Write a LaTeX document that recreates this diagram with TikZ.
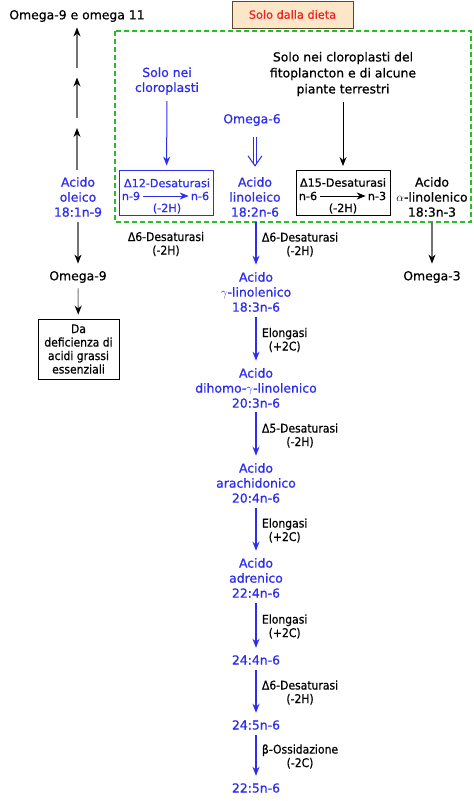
\documentclass[tikz,border=0pt]{standalone}
\usepackage{fontspec}
\setmainfont[FakeBold=0.8]{DejaVu Sans}
\newfontfamily\condfont[FakeStretch=0.9,FakeBold=0.6]{DejaVu Sans}
\usetikzlibrary{arrows.meta,positioning}
\definecolor{acidblue}{RGB}{45,45,235}
\definecolor{dashgreen}{RGB}{40,190,40}
\definecolor{dietfill}{RGB}{252,230,200}
\definecolor{dietred}{RGB}{235,35,35}
\definecolor{dietline}{RGB}{90,70,50}
\begin{document}
\begin{tikzpicture}[
        x=1pt, y=-1pt,
        % stili dei testi
        acid/.style={text=acidblue, align=center, font=\fontsize{12.4}{15}\selectfont},
        plain/.style={align=center, font=\fontsize{12.4}{15}\selectfont},
        lab/.style={align=center, font=\condfont\fontsize{12}{13.5}\selectfont},
        boxtext/.style={font=\fontsize{11.2}{13}\selectfont, inner sep=1pt},
        enzbox/.style={draw, line width=0.9pt, minimum width=94pt, minimum height=45pt},
        % stili delle frecce
        flow/.style={draw=acidblue, line width=1.3pt, -{Stealth[length=9pt,width=7pt]}},
        blackflow/.style={draw=black!55, line width=1.1pt, -{Stealth[length=9pt,width=7pt,color=black]}},
        thinflow/.style={line width=1pt, -{Stealth[length=9pt,width=7pt]}},
    ]
    \useasboundingbox (0,0) rectangle (474,801);

    % riquadro verde tratteggiato
    \draw[dashgreen, line width=1.2pt, dash pattern=on 5pt off 3pt] (115,31) rectangle (471,222);

    % solo dalla dieta
    \node[draw=dietline, fill=dietfill, text=dietred, line width=0.9pt,
          font=\fontsize{11.3}{14}\selectfont, minimum width=121pt, minimum height=27pt]
          (dieta) at (292.5,14.5) {Solo dalla dieta};

    % colonna sinistra: omega-9
    \node[plain] (om911) at (77,16) {Omega-9 e omega 11};
    \coordinate (p1) at (77,123);
    \coordinate (p2) at (77,72.5);
    \node[acid] (oleico) at (78,197) {Acido\\oleico\\18:1n-9};
    \node[plain] (om9) at (78,277) {Omega-9};
    \node[draw, lab, line width=0.8pt, minimum width=81pt, minimum height=60pt, inner sep=1pt]
          (defic) at (78.5,349) {Da\\deficienza di\\acidi grassi\\essenziali};

    \draw[blackflow, shorten <=4pt, shorten >=5pt] (oleico.north -| p1) -- (p1);
    \draw[blackflow, shorten <=5pt, shorten >=5pt] (p1) -- (p2);
    \draw[blackflow, shorten <=5pt, shorten >=2pt] (p2) -- (om911.south -| p2);
    \draw[blackflow, shorten <=2pt, shorten >=4pt] (oleico) -- (om9);
    \draw[blackflow, shorten <=2pt, shorten >=4pt] (om9) -- (defic);

    % delta-12 desaturasi
    \node[acid] (solo1) at (167,81) {Solo nei\\cloroplasti};
    \node[enzbox, draw=acidblue] (d12) at (166.5,192.5) {};
    \node[boxtext, text=acidblue] (d12t) at (167,183) {Δ12-Desaturasi};
    \node[boxtext, text=acidblue] (n9) at (131,196) {n-9};
    \node[boxtext, text=acidblue] (n6) at (200,196) {n-6};
    \node[boxtext, text=acidblue] (d12h) at (167,208.5) {(-2H)};
    \draw[thinflow, acidblue, shorten <=3pt, shorten >=4pt] (solo1) -- (d12);
    \draw[thinflow, acidblue, line width=0.9pt, shorten <=2pt, shorten >=1pt] (n9) -- (n6);

    % omega-6 (freccia doppia)
    \node[acid] (om6) at (252,120) {Omega-6};
    \node[acid] (linol) at (255,197) {Acido\\linoleico\\18:2n-6};
    \coordinate (om6tip) at ([yshift=7pt]linol.north);
    \draw[acidblue, double, double distance=2.6pt, line width=1pt,
          shorten <=8pt, shorten >=3pt] (om6.south -| linol) -- (om6tip);
    \draw[acidblue, line width=1pt, -{Straight Barb[length=10pt,width=14pt]}]
          ([yshift=0.2pt]om6tip) -- (om6tip);

    % delta-15 desaturasi
    \node[plain, font=\fontsize{12.4}{16}\selectfont] (solo2) at (343,74)
          {Solo nei cloroplasti del\\fitoplancton e di alcune\\piante terrestri};
    \node[enzbox] (d15) at (343,193) {};
    \node[boxtext] (d15t) at (343,182.5) {Δ15-Desaturasi};
    \node[boxtext] (n6b) at (308,196) {n-6};
    \node[boxtext] (n3) at (377,196) {n-3};
    \node[boxtext] (d15h) at (343,208.5) {(-2H)};
    \draw[thinflow, shorten <=2pt, shorten >=4pt] (solo2) -- (d15);
    \draw[thinflow, line width=0.9pt, shorten <=2pt, shorten >=1pt] (n6b) -- (n3);

    % omega-3
    \node[plain] (alin) at (432,197) {Acido\\$\alpha$-linolenico\\18:3n-3};
    \node[plain] (om3) at (432,277) {Omega-3};
    \draw[blackflow, shorten <=2pt, shorten >=4pt] (alin) -- (om3);

    % catena principale
    \node[lab] (d6sx) at (166,244) {Δ6-Desaturasi\\(-2H)};
    \node[acid] (gamma) at (256,292) {Acido\\$\gamma$-linolenico\\18:3n-6};
    \node[acid] (dgla) at (256,388) {Acido\\dihomo-$\gamma$-linolenico\\20:3n-6};
    \node[acid] (arach) at (256,483) {Acido\\arachidonico\\20:4n-6};
    \node[acid] (adren) at (256,578) {Acido\\adrenico\\22:4n-6};
    \node[acid] (c244) at (256,660) {24:4n-6};
    \node[acid] (c245) at (256,725) {24:5n-6};
    \node[acid] (c225) at (256,788) {22:5n-6};

    \draw[flow, shorten <=2pt, shorten >=4pt] (linol.south -| gamma) -- (gamma)
          node[midway, right=2pt, lab] {Δ6-Desaturasi\\(-2H)};
    \draw[flow, shorten <=2pt, shorten >=4pt] (gamma) -- (dgla)
          node[midway, right=2pt, lab] {Elongasi\\(+2C)};
    \draw[flow, shorten <=1pt, shorten >=4pt] (dgla) -- (arach)
          node[midway, right=2pt, lab] {Δ5-Desaturasi\\(-2H)};
    \draw[flow, shorten <=2pt, shorten >=4pt] (arach) -- (adren)
          node[midway, right=2pt, lab] {Elongasi\\(+2C)};
    \draw[flow, shorten <=2pt, shorten >=4pt] (adren) -- (c244)
          node[midway, right=2pt, lab] {Elongasi\\(+2C)};
    \draw[flow, shorten <=2pt, shorten >=4pt] (c244) -- (c245)
          node[midway, right=2pt, lab] {Δ6-Desaturasi\\(-2H)};
    \draw[flow, shorten <=2pt, shorten >=4pt] (c245) -- (c225)
          node[midway, right=2pt, lab] {β-Ossidazione\\(-2C)};
\end{tikzpicture}
\end{document}
